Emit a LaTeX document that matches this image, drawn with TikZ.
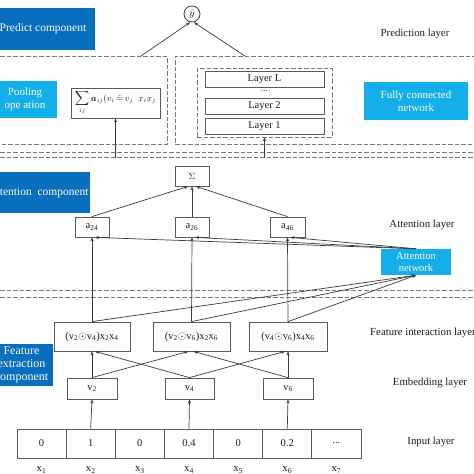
\documentclass[tikz,border=0pt]{standalone}
\usepackage{fontspec}
\setmainfont{Liberation Serif}
\usepackage{bm}
\usetikzlibrary{arrows.meta}
\definecolor{darkb}{RGB}{8,110,190}
\definecolor{lightb}{RGB}{20,174,234}
\definecolor{boxgray}{RGB}{90,90,90}
\definecolor{dashgray}{RGB}{120,120,120}
\definecolor{conngray}{RGB}{60,60,60}
\definecolor{txt}{RGB}{30,30,30}
\begin{document}
\begin{tikzpicture}[x=1pt,y=-1pt,
  dbox/.style={fill=darkb,text=white,inner sep=0pt,align=center,font=\fontsize{11.5}{13}\selectfont},
  lbox/.style={fill=lightb,text=white,inner sep=0pt,align=center,font=\fontsize{11}{13}\selectfont},
  wbox/.style={draw=boxgray,fill=white,line width=0.8pt,inner sep=0pt,text=txt,font=\fontsize{10.5}{12}\selectfont},
  dashbox/.style={draw=dashgray,line width=0.8pt,dash pattern=on 4.5pt off 2pt,inner sep=0pt},
  dashline/.style={draw=dashgray,line width=0.8pt,dash pattern=on 4.5pt off 2pt},
  lbl/.style={text=txt,inner sep=0pt,font=\fontsize{10.8}{13}\selectfont},
  cell/.style={draw=boxgray,line width=0.8pt,inner sep=0pt,minimum width=49.14pt,minimum height=29pt,text=txt,font=\fontsize{10.5}{12}\selectfont},
  conn/.style={draw=conngray,line width=0.7pt},
  arr/.style={conn,-{Stealth[length=4pt,width=3.2pt]}}
]
\useasboundingbox (0,0) rectangle (474,474);
\fill[white] (0,0) rectangle (474,474);
\clip (0,0) rectangle (474,474);

% ---------- Prediction part ----------
\node[dbox,minimum width=104pt,minimum height=42pt] (pred) at (43,29) {Predict component};
\node[lbl] (predl) at (415,34) {Prediction layer};
\node[draw=conngray,line width=0.8pt,circle,minimum size=16pt,inner sep=0pt,fill=white] (yhat) at (192,14) {$\hat{y}$};

\node[dashbox,minimum width=172pt,minimum height=88pt] (ldash) at (81,100) {};
\node[dashbox,minimum width=305pt,minimum height=88pt] (rdash) at (327.5,100) {};
\coordinate (pl) at (141,56);
\coordinate (pr) at (245,56);
\draw[arr] (pl) -- ([xshift=-2pt]yhat.south);
\draw[arr] (pr) -- ([xshift=2pt]yhat.south);

\node[lbox,minimum width=64pt,minimum height=37pt] (pool) at (25,99.5) {Pooling\\ope ation};
\node[wbox,minimum width=89pt,minimum height=30pt,font=\fontsize{8.6}{10}\selectfont] (form) at (115.5,103)
  {$\displaystyle\sum_{ij}\bm{a}_{ij}(v_i\,\hat{=}\,v_j\;\;x_ix_j$};

\node[dashbox,minimum width=135pt,minimum height=69pt] (inner) at (264.5,102.5) {};
\node[wbox,minimum width=119pt,minimum height=16pt] (layL) at (264.5,79) {Layer L};
\node[text=txt,inner sep=0pt,font=\fontsize{9}{10}\selectfont] (dots) at (264.5,91) {...};
\node[wbox,minimum width=119pt,minimum height=16pt] (lay2) at (264.5,106) {Layer 2};
\node[wbox,minimum width=119pt,minimum height=16pt] (lay1) at (264.5,126) {Layer 1};
\node[lbox,minimum width=104pt,minimum height=38pt] (fcn) at (416,101) {Fully connected\\network};

\draw[dashline] (0,152.5) -- (474,152.5);
\draw[dashline] (0,157.5) -- (474,157.5);
\coordinate (uf) at (115.5,157.5);
\coordinate (ui) at (264.5,157.5);
\draw[arr] (uf) -- (form.south);
\draw[arr] (ui) -- (inner.south);

% ---------- Attention part ----------
\node[dbox,minimum width=103pt,minimum height=41pt] (attc) at (38.5,192.5) {Attention\ \ component};
\node[wbox,minimum width=34pt,minimum height=20pt,font=\fontsize{9}{10}\selectfont] (sig) at (192,176) {$\Sigma$};
\node[wbox,minimum width=34pt,minimum height=20pt] (a24) at (92,227) {a\textsubscript{24}};
\node[wbox,minimum width=34pt,minimum height=20pt] (a26) at (192,227) {a\textsubscript{26}};
\node[wbox,minimum width=35pt,minimum height=20pt] (a46) at (287.5,227) {a\textsubscript{46}};
\node[lbl] (attl) at (422,225) {Attention layer};
\node[lbox,minimum width=70pt,minimum height=26pt,font=\fontsize{10.5}{12}\selectfont] (attn) at (416,262) {Attention\\network};

\draw[arr] (a24.north) -- ([xshift=-4pt]sig.south);
\draw[arr] (a26.north) -- (sig.south);
\draw[arr] (a46.north) -- ([xshift=4pt]sig.south);
\draw[arr] (attn.north) -- ([xshift=3pt]a24.south);
\draw[arr] (attn.north) -- ([xshift=3pt]a26.south);
\draw[arr] (attn.north) -- ([xshift=3pt]a46.south);

\draw[dashline] (0,290) -- (474,290);
\draw[dashline] (0,297) -- (474,297);

% ---------- Feature extraction part ----------
\node[wbox,minimum width=76pt,minimum height=29pt] (i24) at (92,336.5) {(v\textsubscript{2}$\odot$v\textsubscript{4})x\textsubscript{2}x\textsubscript{4}};
\node[wbox,minimum width=77pt,minimum height=29pt] (i26) at (191.5,336.5) {(v\textsubscript{2}$\odot$v\textsubscript{6})x\textsubscript{2}x\textsubscript{6}};
\node[wbox,minimum width=78pt,minimum height=29pt] (i46) at (288,336.5) {(v\textsubscript{4}$\odot$v\textsubscript{6})x\textsubscript{4}x\textsubscript{6}};
\node[lbl,anchor=west] (fil) at (370,333) {Feature interaction layer};

\draw[arr] (i24.north) -- (a24.south);
\draw[arr] (i26.north) -- (a26.south);
\draw[arr] (i46.north) -- (a46.south);
\draw[arr] (i24.north) -- (attn.south);
\draw[arr] (i26.north) -- (attn.south);
\draw[arr] (i46.north) -- (attn.south);

\node[dbox,minimum width=63pt,minimum height=42pt,font=\fontsize{12}{13}\selectfont] (fec) at (21.5,365) {Feature\\extraction\\component};

\node[wbox,minimum width=50pt,minimum height=21pt] (v2) at (92,388.5) {v\textsubscript{2}};
\node[wbox,minimum width=49pt,minimum height=21pt] (v4) at (189.5,388.5) {v\textsubscript{4}};
\node[wbox,minimum width=50pt,minimum height=21pt] (v6) at (288,388.5) {v\textsubscript{6}};
\node[lbl] (embl) at (430,383) {Embedding layer};

\draw[arr] (v2.north) -- (i24.south);
\draw[arr] (v2.north) -- ([xshift=-3pt]i26.south);
\draw[arr] (v4.north) -- ([xshift=3pt]i24.south);
\draw[arr] (v4.north) -- ([xshift=-3pt]i46.south);
\draw[arr] (v6.north) -- ([xshift=2pt]i26.south);
\draw[arr] (v6.north) -- (i46.south);

% ---------- Input ----------
\node[cell] (c1) at (41.57,443.5) {0};
\node[cell] (c2) at (90.71,443.5) {1};
\node[cell] (c3) at (139.85,443.5) {0};
\node[cell] (c4) at (188.99,443.5) {0.4};
\node[cell] (c5) at (238.13,443.5) {0};
\node[cell] (c6) at (287.27,443.5) {0.2};
\node[cell] (c7) at (336.41,443.5) {...};
\node[lbl] (inl) at (431,442) {Input layer};

\draw[arr] (c2.north) -- (v2.south);
\draw[arr] (c4.north) -- (v4.south);
\draw[arr] (c6.north) -- (v6.south);

\node[lbl] (x1) at (41.57,470) {x\textsubscript{1}};
\node[lbl] (x2) at (90.71,470) {x\textsubscript{2}};
\node[lbl] (x3) at (139.85,470) {x\textsubscript{3}};
\node[lbl] (x4) at (188.99,470) {x\textsubscript{4}};
\node[lbl] (x5) at (238.13,470) {x\textsubscript{5}};
\node[lbl] (x6) at (287.27,470) {x\textsubscript{6}};
\node[lbl] (x7) at (336.41,470) {x\textsubscript{7}};
\end{tikzpicture}
\end{document}
